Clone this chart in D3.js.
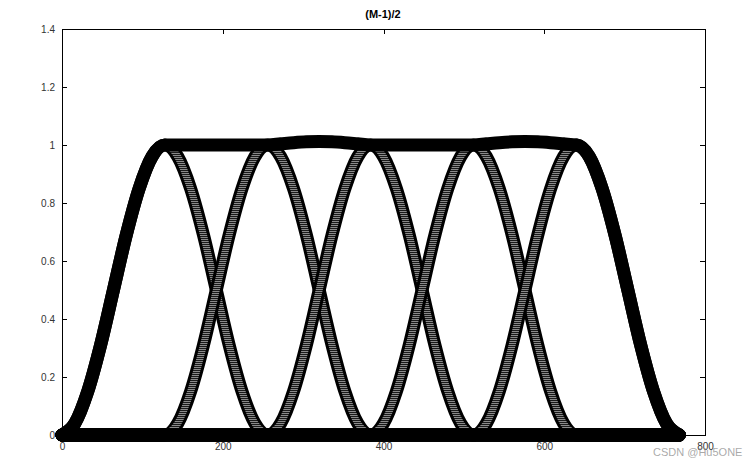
<!DOCTYPE html>
<html>
<head>
<meta charset="utf-8">
<script src="https://cdn.jsdelivr.net/npm/d3@7/dist/d3.min.js"></script>
<style>
  html, body { margin: 0; padding: 0; background: #fff; }
  svg { display: block; }
  text { font-family: "Liberation Sans", Arial, Helvetica, sans-serif; }
</style>
</head>
<body>
<svg id="chart" width="755" height="465"></svg>
<script>
// ---- data ----
const title = "(M-1)/2";
const xTicks = [0, 200, 400, 600, 800];
const yTicks = [0, 0.2, 0.4, 0.6, 0.8, 1, 1.2, 1.4];
const xTickLabels = ["0", "200", "400", "600", "800"];
const yTickLabels = ["0", "0.2", "0.4", "0.6", "0.8", "1", "1.2", "1.4"];

// sample positions (every 16 samples) of the signal axis
const samplePositions = [0,16,32,48,64,80,96,112,128,144,160,176,192,208,224,240,256,
  272,288,304,320,336,352,368,384,400,416,432,448,464,480,496,512,
  528,544,560,576,592,608,624,640,656,672,688,704,720,736,752,768];

// one window's shape, read at every 16th sample over its 256-sample support
const windowShape = [0, 0.04, 0.15, 0.31, 0.5, 0.69, 0.85, 0.96, 1, 0.96, 0.85, 0.69, 0.5, 0.31, 0.15, 0.04, 0];
const windowSpan = 256;
// window start positions (hop = (M-1)/2)
const windowStarts = [0, 128, 256, 384, 512];

// overlap-add sum of all windows, read at the same sample positions
const sumValues = [0, 0.04, 0.15, 0.31, 0.5, 0.69, 0.85, 0.96, 1,
  1, 1, 1, 1, 1, 1, 1, 1,
  1.004, 1.008, 1.011, 1.012, 1.011, 1.008, 1.004, 1,
  1, 1, 1, 1, 1, 1, 1, 1,
  1.004, 1.008, 1.011, 1.012, 1.011, 1.008, 1.004, 1,
  0.96, 0.85, 0.69, 0.5, 0.31, 0.15, 0.04, 0];

const watermark = "CSDN @Hu5ONE";

// ---- build series ----
const windows = windowStarts.map(s => samplePositions.map(p => {
  const inside = p >= s && p <= s + windowSpan;
  return { x: p, v: inside ? windowShape[(p - s) / 16] : 0, inside };
}));
const sumSeries = samplePositions.map((p, i) => ({ x: p, v: sumValues[i] }));

// ---- layout ----
const svg = d3.select("#chart");
const defs = svg.append("defs");
const pat = defs.append("pattern").attr("id", "tex")
  .attr("patternUnits", "userSpaceOnUse").attr("width", 2).attr("height", 2);
pat.append("rect").attr("width", 2).attr("height", 2).attr("fill", "#8a8a8a");
pat.append("rect").attr("width", 2).attr("height", 1).attr("fill", "#1a1a1a");

const x = d3.scaleLinear().domain([0, 800]).range([62, 705]);
const y = d3.scaleLinear().domain([0, 1.4]).range([435, 29]);

const line = d3.line().x(d => x(d.x)).y(d => y(d.v)).curve(d3.curveMonotoneX);
const bandW = 13;

// frame
svg.append("rect")
  .attr("x", 62).attr("y", 29)
  .attr("width", 705 - 62).attr("height", 435 - 29)
  .attr("fill", "none").attr("stroke", "#000").attr("stroke-width", 1)
  .attr("shape-rendering", "crispEdges");

// axes with inward ticks
const fmtX = (d, i) => xTickLabels[i];
const fmtY = (d, i) => yTickLabels[i];
const gL = svg.append("g").attr("transform", "translate(62,0)")
  .call(d3.axisLeft(y).tickValues(yTicks).tickFormat(fmtY).tickSize(-5).tickPadding(7));
const gR = svg.append("g").attr("transform", "translate(705,0)")
  .call(d3.axisRight(y).tickValues(yTicks).tickSize(-5).tickFormat(""));
const gB = svg.append("g").attr("transform", "translate(0,435)")
  .call(d3.axisBottom(x).tickValues(xTicks).tickFormat(fmtX).tickSize(-5).tickPadding(8));
const gT = svg.append("g").attr("transform", "translate(0,29)")
  .call(d3.axisTop(x).tickValues(xTicks).tickSize(-5).tickFormat(""));
[gL, gR, gB, gT].forEach(g => {
  g.select(".domain").remove();
  g.selectAll("line").attr("stroke", "#000").attr("shape-rendering", "crispEdges");
  g.selectAll("text").attr("font-size", 10).attr("fill", "#333")
    .attr("font-family", "'Liberation Sans', Arial, sans-serif");
});

// window bands
const plot = svg.append("g");
windows.forEach(w => {
  plot.append("path").datum(w).attr("d", line)
    .attr("fill", "none").attr("stroke", "#000").attr("stroke-width", bandW)
    .attr("stroke-linecap", "round").attr("stroke-linejoin", "round");
  plot.append("path").datum(w).attr("d", line.defined(d => d.inside))
    .attr("fill", "none").attr("stroke", "url(#tex)").attr("stroke-width", 7)
    .attr("stroke-linecap", "butt").attr("stroke-linejoin", "round");
  line.defined(() => true);
});
// zero parts of every window drawn solid on top
windows.forEach(w => {
  plot.append("path").datum(w).attr("d", line.defined(d => d.v === 0))
    .attr("fill", "none").attr("stroke", "#000").attr("stroke-width", bandW)
    .attr("stroke-linecap", "round").attr("stroke-linejoin", "round");
  line.defined(() => true);
});
// sum band
plot.append("path").datum(sumSeries).attr("d", line)
  .attr("fill", "none").attr("stroke", "#000").attr("stroke-width", bandW)
  .attr("stroke-linecap", "round").attr("stroke-linejoin", "round");

// title
svg.append("text").attr("x", 383).attr("y", 17.5).attr("text-anchor", "middle")
  .attr("font-size", 11).attr("font-weight", "bold").attr("fill", "#000").text(title);

// watermark (overlaps the 800 label in the reference as well)
svg.append("text").attr("x", 653).attr("y", 456)
  .attr("font-size", 11).attr("fill", "#9a9a9a").attr("fill-opacity", 0.85)
  .attr("font-family", "'Liberation Sans', Arial, sans-serif").text(watermark);
</script>
</body>
</html>
